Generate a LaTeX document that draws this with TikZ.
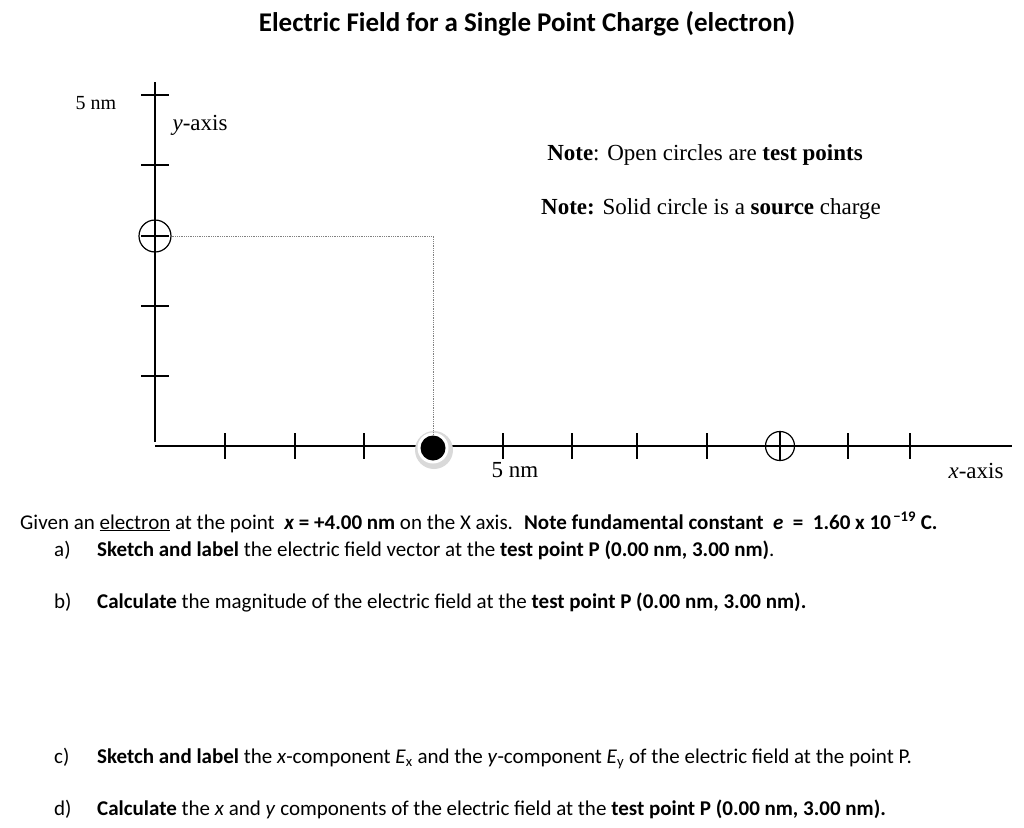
\documentclass[tikz,border=0pt]{standalone}
\usepackage{fontspec}
\setmainfont{Carlito}
\newfontfamily\tnr{Liberation Serif}
\begin{document}
\begin{tikzpicture}[x=1pt,y=-1pt,
  ax/.style={line width=1.6pt},
  tk/.style={line width=1.2pt},
  serif/.style={font=\tnr\fontsize{23}{26}\selectfont},
  body/.style={font=\fontsize{21}{24}\selectfont, anchor=base west, inner sep=0},
  tp/.style={circle, draw, line width=1.2pt, minimum size=32pt, inner sep=0}]
\useasboundingbox (0,0) rectangle (1024,827);
\node[font=\bfseries\fontsize{27}{30}\selectfont] (title) at (527,24) {Electric Field for a Single Point Charge (electron)};
% axes
\coordinate (o) at (155,446);
\coordinate (ytop) at (155,82);
\coordinate (xend) at (1012,446);
\draw[ax] (ytop) -- (155,442);
\draw[ax] (o) -- (xend);
\foreach \y in {95,165,306,376} \draw[tk] (141,\y) -- (169,\y);
\foreach \x in {225,295,364,503,572,637,707,848,910} \draw[tk] (\x,433) -- (\x,459);
% test points
\node[tp] (p) at (155,236) {};
\draw[tk] (141,236) -- (169,236);
\node[tp, minimum size=29pt] (q) at (780,446) {};
\draw[tk] (780,432) -- (780,460);
% source
\node[circle, fill=black!15, minimum size=38pt, inner sep=0] (sring) at (434,450) {};
\node[circle, fill=white, minimum size=31pt, inner sep=0] at (433,448) {};
\node[circle, fill=black, minimum size=25pt, inner sep=0] (src) at (433,448) {};
\coordinate (c) at (433,236);
\draw[gray, densely dotted, line width=0.8pt] (p.east) -- (c) -- (src.north);
% labels
\node[serif, font=\tnr\fontsize{20}{22}\selectfont] (l5y) at (96,103) {5 nm};
\node[serif] (yl) at (200,125) {\textit{y}-axis};
\node[serif] (l5x) at (515,470) {5 nm};
\node[serif] (xl) at (976,471) {\textit{x}-axis};
\node[serif] (n1) at (705,155) {\textbf{Note}: Open circles are \textbf{test points}};
\node[serif] (n2) at (711,209) {\textbf{Note:} Solid circle is a \textbf{source} charge};
% text
\node[body] (t0) at (20,529) {Given an \underline{electron} at the point \ \textbf{\textit{x} = +4.00 nm} on the X axis. \ \textbf{Note fundamental constant \ \textit{e} \ = \ 1.60 x 10\textsuperscript{\,−19} C.}};
\node[body] (ta) at (54,556) {a)};
\node[body] at (97,556) {\textbf{Sketch and label} the electric field vector at the \textbf{test point P (0.00 nm, 3.00 nm)}.};
\node[body] (tb) at (54,608) {b)};
\node[body] at (97,608) {\textbf{Calculate} the magnitude of the electric field at the \textbf{test point P (0.00 nm, 3.00 nm).}};
\node[body] (tc) at (54,763) {c)};
\node[body] at (97,763) {\textbf{Sketch and label} the \textit{x}-component \textit{E}\textsubscript{x} and the \textit{y}-component \textit{E}\textsubscript{y} of the electric field at the point P.};
\node[body] (td) at (54,815) {d)};
\node[body] at (97,815) {\textbf{Calculate} the \textit{x} and \textit{y} components of the electric field at the \textbf{test point P (0.00 nm, 3.00 nm).}};
\end{tikzpicture}
\end{document}
